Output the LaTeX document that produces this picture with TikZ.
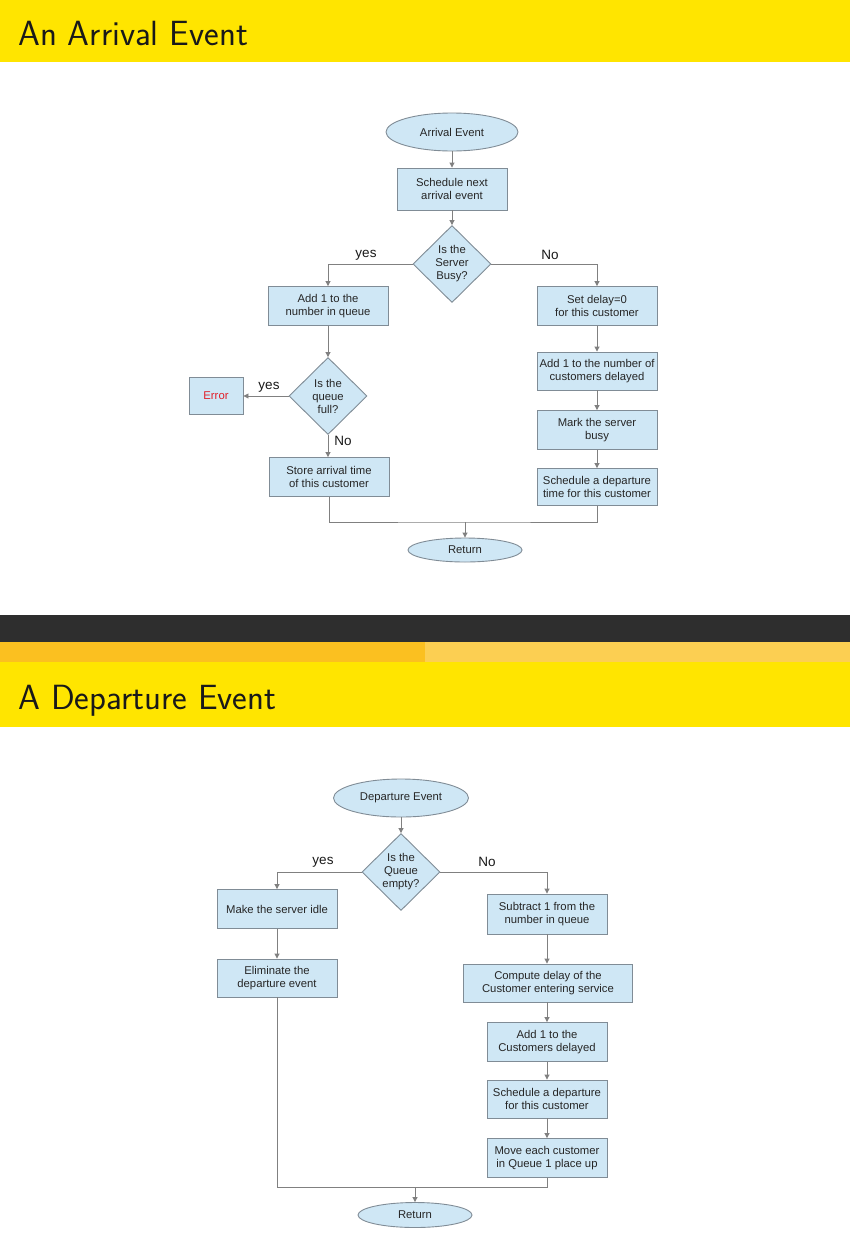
\documentclass[tikz,border=0pt]{standalone}
\usepackage{fontspec}
\setmainfont{Liberation Sans}
\usetikzlibrary{shapes.geometric,arrows.meta,calc}
\definecolor{titlebar}{RGB}{255,229,0}
\definecolor{darkbar}{RGB}{46,46,46}
\definecolor{orangeA}{RGB}{251,192,32}
\definecolor{orangeB}{RGB}{252,207,82}
\definecolor{boxfill}{RGB}{207,231,245}
\definecolor{boxdraw}{RGB}{128,140,150}
\definecolor{linecol}{RGB}{128,128,128}
\definecolor{errred}{RGB}{225,30,40}
\tikzset{
  x=1pt,y=-1pt,
  base/.style={fill=boxfill,draw=boxdraw,line width=0.9pt,inner sep=0pt,align=center,
    font=\fontsize{11.3}{13}\selectfont,text=black!85},
  procbox/.style={base,rectangle,minimum width=120pt,minimum height=39pt},
  termel/.style={base,ellipse,minimum width=132pt,minimum height=38pt},
  decide/.style={base,diamond,minimum width=78pt,minimum height=77pt},
  conn/.style={draw=linecol,line width=0.9pt},
  arr/.style={conn,-{Triangle[length=5pt,width=5pt]}},
  lbl/.style={font=\fontsize{13.5}{15}\selectfont,text=black!90,inner sep=0pt},
  titletext/.style={font=\sffamily\fontsize{35}{40}\selectfont,text=black!90,anchor=base west,inner sep=0pt}
}
\begin{document}
\begin{tikzpicture}
\path[use as bounding box,fill=white] (0,0) rectangle (850,1256);
% slide 1 header
\fill[titlebar] (0,0) rectangle (850,62);
\node[titletext] (t1) at (18,45) {An Arrival Event};
% slide separator bars
\fill[darkbar] (0,615) rectangle (850,642);
\fill[orangeA] (0,642) rectangle (425,662);
\fill[orangeB] (425,642) rectangle (850,662);
\fill[titlebar] (0,662) rectangle (850,727);
\node[titletext] (t2) at (18,709) {A Departure Event};

% ---------- Arrival flowchart ----------
\node[termel] (ae) at (452,132) {Arrival Event};
\node[procbox,minimum width=110pt,minimum height=42pt] (sna) at (452,189) {Schedule next\\arrival event};
\node[decide] (busy) at (452,264) {Is the\\Server\\Busy?};
\node[procbox] (add1) at (328,306) {Add 1 to the\\number in queue};
\node[procbox] (setd) at (597,306) {Set delay=0\\for this customer};
\node[decide] (full) at (328,396) {Is the\\queue\\full?};
\node[procbox,minimum width=54pt,minimum height=37pt,text=errred] (err) at (216,396) {Error};
\node[procbox] (store) at (329,477) {Store arrival time\\of this customer};
\node[procbox,minimum height=38pt] (addc) at (597,371) {Add 1 to the number of\\customers delayed};
\node[procbox] (mark) at (597,430) {Mark the server\\busy};
\node[procbox,minimum height=37pt] (sched) at (597,487) {Schedule a departure\\time for this customer};
\node[termel,minimum width=114pt,minimum height=24pt] (ret1) at (465,550) {Return};
\coordinate (j1) at (465,522);

\draw[arr] (ae) -- (sna);
\draw[arr] (sna) -- (busy);
\draw[arr] (busy.west) -| (add1.north);
\draw[arr] (busy.east) -| (setd.north);
\draw[arr] (add1.south) -- (full.north);
\draw[arr] (full.west) -- (err.east);
\draw[arr] (full.south) -- (full.south |- store.north);
\draw[arr] (setd) -- (addc);
\draw[arr] (addc) -- (mark);
\draw[arr] (mark) -- (sched);
\draw[conn] (store.south) |- (j1) -| (sched.south);
\draw[arr] (j1) -- (ret1.north);
\node[lbl] (l1) at (366,255) {yes};
\node[lbl] (l2) at (550,255) {No};
\node[lbl] (l3) at (269,387) {yes};
\node[lbl] (l4) at (343,441) {No};

% ---------- Departure flowchart ----------
\node[termel,minimum width=135pt] (de) at (401,798) {Departure Event};
\node[decide] (empty) at (401,872) {Is the\\Queue\\empty?};
\node[procbox] (idle) at (277,909) {Make the server idle};
\node[procbox,minimum height=38pt] (elim) at (277,978) {Eliminate the\\departure event};
\node[procbox,minimum height=40pt] (sub) at (547,914) {Subtract 1 from the\\number in queue};
\node[procbox,minimum width=169pt,minimum height=38pt] (comp) at (548,983) {Compute delay of the\\Customer entering service};
\node[procbox] (addd) at (547,1042) {Add 1 to the\\Customers delayed};
\node[procbox,minimum height=38pt] (sdep) at (547,1099) {Schedule a departure\\for this customer};
\node[procbox] (move) at (547,1158) {Move each customer\\in Queue 1 place up};
\node[termel,minimum width=114pt,minimum height=25pt] (ret2) at (415,1215) {Return};
\coordinate (j2) at (415,1187);

\draw[arr] (de) -- (empty);
\draw[arr] (empty.west) -| (idle.north);
\draw[arr] (empty.east) -| (sub.north);
\draw[arr] (idle) -- (elim);
\draw[arr] (sub.south) -- (sub.south |- comp.north);
\draw[arr] (comp.south -| addd.north) -- (addd.north);
\draw[arr] (addd) -- (sdep);
\draw[arr] (sdep) -- (move);
\draw[conn] (elim.south) |- (j2) -| (move.south);
\draw[arr] (j2) -- (ret2.north);
\node[lbl] (l5) at (323,862) {yes};
\node[lbl] (l6) at (487,862) {No};
\end{tikzpicture}
\end{document}
